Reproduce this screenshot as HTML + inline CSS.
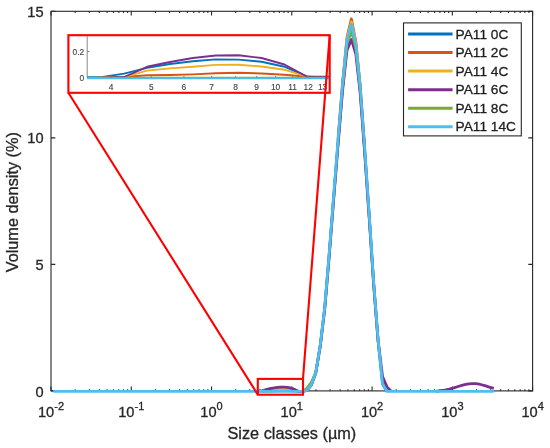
<!DOCTYPE html>
<html><head><meta charset="utf-8"><title>Volume density plot</title>
<style>
html,body{margin:0;padding:0;background:#fff;}
body{width:550px;height:448px;overflow:hidden;}
svg{display:block;}
text{font-family:"Liberation Sans",Arial,Helvetica,sans-serif;fill:#262626;stroke:#262626;stroke-width:0.3px;}
</style></head><body>
<svg width="550" height="448" viewBox="0 0 550 448">
<rect x="0" y="0" width="550" height="448" fill="#fff"/>

<defs><clipPath id="cm"><rect x="51.00" y="-18.70" width="481.60" height="439.60"/></clipPath>
<clipPath id="ci"><rect x="87.20" y="31.30" width="242.50" height="51.20"/></clipPath></defs>
<g stroke="#262626" stroke-width="1.1" fill="none">
<rect x="51.00" y="11.30" width="481.60" height="379.60"/>
<path d="M51.00 390.90v-4.3M51.00 11.30v4.3M75.16 390.90v-1.6M75.16 11.30v1.6M89.30 390.90v-1.6M89.30 11.30v1.6M99.33 390.90v-1.6M99.33 11.30v1.6M107.10 390.90v-1.6M107.10 11.30v1.6M113.46 390.90v-1.6M113.46 11.30v1.6M118.83 390.90v-1.6M118.83 11.30v1.6M123.49 390.90v-1.6M123.49 11.30v1.6M127.59 390.90v-1.6M127.59 11.30v1.6M131.27 390.90v-4.3M131.27 11.30v4.3M155.43 390.90v-1.6M155.43 11.30v1.6M169.56 390.90v-1.6M169.56 11.30v1.6M179.59 390.90v-1.6M179.59 11.30v1.6M187.37 390.90v-1.6M187.37 11.30v1.6M193.73 390.90v-1.6M193.73 11.30v1.6M199.10 390.90v-1.6M199.10 11.30v1.6M203.75 390.90v-1.6M203.75 11.30v1.6M207.86 390.90v-1.6M207.86 11.30v1.6M211.53 390.90v-4.3M211.53 11.30v4.3M235.70 390.90v-1.6M235.70 11.30v1.6M249.83 390.90v-1.6M249.83 11.30v1.6M259.86 390.90v-1.6M259.86 11.30v1.6M267.64 390.90v-1.6M267.64 11.30v1.6M273.99 390.90v-1.6M273.99 11.30v1.6M279.37 390.90v-1.6M279.37 11.30v1.6M284.02 390.90v-1.6M284.02 11.30v1.6M288.13 390.90v-1.6M288.13 11.30v1.6M291.80 390.90v-4.3M291.80 11.30v4.3M315.96 390.90v-1.6M315.96 11.30v1.6M330.10 390.90v-1.6M330.10 11.30v1.6M340.13 390.90v-1.6M340.13 11.30v1.6M347.90 390.90v-1.6M347.90 11.30v1.6M354.26 390.90v-1.6M354.26 11.30v1.6M359.63 390.90v-1.6M359.63 11.30v1.6M364.29 390.90v-1.6M364.29 11.30v1.6M368.39 390.90v-1.6M368.39 11.30v1.6M372.07 390.90v-4.3M372.07 11.30v4.3M396.23 390.90v-1.6M396.23 11.30v1.6M410.36 390.90v-1.6M410.36 11.30v1.6M420.39 390.90v-1.6M420.39 11.30v1.6M428.17 390.90v-1.6M428.17 11.30v1.6M434.53 390.90v-1.6M434.53 11.30v1.6M439.90 390.90v-1.6M439.90 11.30v1.6M444.55 390.90v-1.6M444.55 11.30v1.6M448.66 390.90v-1.6M448.66 11.30v1.6M452.33 390.90v-4.3M452.33 11.30v4.3M476.50 390.90v-1.6M476.50 11.30v1.6M490.63 390.90v-1.6M490.63 11.30v1.6M500.66 390.90v-1.6M500.66 11.30v1.6M508.44 390.90v-1.6M508.44 11.30v1.6M514.79 390.90v-1.6M514.79 11.30v1.6M520.17 390.90v-1.6M520.17 11.30v1.6M524.82 390.90v-1.6M524.82 11.30v1.6M528.93 390.90v-1.6M528.93 11.30v1.6M532.60 390.90v-4.3M532.60 11.30v4.3M51.00 390.90h4.3M532.60 390.90h-4.3M51.00 264.37h4.3M532.60 264.37h-4.3M51.00 137.83h4.3M532.60 137.83h-4.3M51.00 11.30h4.3M532.60 11.30h-4.3"/>
</g>
<g fill="none" stroke-width="2.80" stroke-linejoin="round" stroke-linecap="butt">
<polyline stroke="#0072BD" points="257.93,391.45 262.38,390.72 266.83,389.60 271.28,388.84 275.73,388.31 280.18,387.93 284.63,387.98 289.08,388.41 293.53,389.30 297.98,391.30 302.43,391.45 306.88,390.45 311.33,384.94 315.78,372.66 320.23,345.85 324.68,308.52 329.13,255.41 333.58,198.29 338.03,142.42 342.48,88.30 346.93,44.46 351.38,28.17 355.83,48.22 360.28,90.81 364.73,150.94 369.18,215.57 373.63,282.97 378.08,340.34 382.53,383.93 386.98,391.45"/>
<polyline stroke="#D95319" points="262.38,391.45 266.83,391.05 271.28,390.99 275.73,390.84 280.18,390.61 284.63,390.49 289.08,390.64 293.53,390.89 297.98,391.30 302.43,391.45"/>
<polyline stroke="#D95319" points="338.03,139.90 342.48,84.23 346.93,37.92 351.38,18.94 355.83,41.71 360.28,86.76 364.73,148.51"/>
<polyline stroke="#EDB120" points="262.38,391.45 266.83,390.13 271.28,389.65 275.73,389.32 280.18,389.00 284.63,388.97 289.08,389.30 293.53,389.91 297.98,391.30 302.43,391.45"/>
<polyline stroke="#EDB120" points="342.48,85.24 346.93,39.69 351.38,21.97 355.83,43.48 360.28,87.77"/>
<polyline stroke="#7E2F8E" points="262.38,391.45 266.83,389.40 271.28,388.41 275.73,387.63 280.18,387.12 284.63,387.10 289.08,387.63 293.53,388.89 297.98,391.30 302.43,391.30 306.88,390.46 311.33,385.00 315.78,372.85 320.23,346.31 324.68,309.36 329.13,256.78 333.58,200.24 338.03,144.93 342.48,91.36 346.93,50.49 351.38,39.43 355.83,54.21 360.28,93.84 364.73,153.36 369.18,217.35 373.63,284.06 378.08,340.86 382.53,376.52 386.98,386.89 391.43,391.45"/>
<polyline stroke="#7E2F8E" points="435.93,391.45 440.38,390.66 444.83,390.03 449.28,389.11 453.73,387.90 458.18,386.52 462.63,385.17 467.08,384.11 471.53,383.58 475.98,383.72 480.43,384.48 484.88,385.69 489.33,387.08 493.78,388.41"/>
<polyline stroke="#77AC30" points="302.43,391.45 306.88,388.41 311.33,382.34 315.78,372.47"/>
<polyline stroke="#77AC30" points="342.48,85.24 346.93,43.48 351.38,31.08 355.83,47.28 360.28,87.77"/>
<polyline stroke="#4DBEEE" points="53.23,391.45 57.68,391.45 62.13,391.45 66.58,391.45 71.03,391.45 75.48,391.45 79.93,391.45 84.38,391.45 88.83,391.45 93.28,391.45 97.73,391.45 102.18,391.45 106.63,391.45 111.08,391.45 115.53,391.45 119.98,391.45 124.43,391.45 128.88,391.45 133.33,391.45 137.78,391.45 142.23,391.45 146.68,391.45 151.13,391.45 155.58,391.45 160.03,391.45 164.48,391.45 168.93,391.45 173.38,391.45 177.83,391.45 182.28,391.45 186.73,391.45 191.18,391.45 195.63,391.45 200.08,391.45 204.53,391.45 208.98,391.45 213.43,391.45 217.88,391.45 222.33,391.45 226.78,391.45 231.23,391.45 235.68,391.45 240.13,391.45 244.58,391.45 249.03,391.45 253.48,391.45 257.93,391.45 262.38,391.45 266.83,391.45 271.28,391.45 275.73,391.45 280.18,391.45 284.63,391.45 289.08,391.45 293.53,391.45 297.98,391.45 302.43,391.45 306.88,390.44 311.33,384.87 315.78,372.47 320.23,345.39 324.68,307.68 329.13,254.03 333.58,196.34 338.03,139.90 342.48,85.24 346.93,40.95 351.38,24.50 355.83,44.75 360.28,87.77 364.73,148.51 369.18,213.80 373.63,281.87 378.08,339.82 382.53,383.86 386.98,391.45 391.43,391.45 395.88,391.45 400.33,391.45 404.78,391.45 409.23,391.45 413.68,391.45 418.13,391.45 422.58,391.45 427.03,391.45 431.48,391.45 435.93,391.45 440.38,391.45 444.83,391.45 449.28,391.45 453.73,391.45 458.18,391.45 462.63,391.45 467.08,391.45 471.53,391.45 475.98,391.45 480.43,391.45 484.88,391.45 489.33,391.45 493.78,391.45"/>
</g>
<text x="43.6" y="397.10" font-size="14.6" text-anchor="end">0</text>
<text x="43.6" y="270.27" font-size="14.6" text-anchor="end">5</text>
<text x="43.6" y="143.43" font-size="14.6" text-anchor="end">10</text>
<text x="43.6" y="16.60" font-size="14.6" text-anchor="end">15</text>
<text x="51.00" y="417.4" font-size="14.6" text-anchor="middle">10<tspan font-size="11.0" dy="-7.0">-2</tspan></text>
<text x="131.27" y="417.4" font-size="14.6" text-anchor="middle">10<tspan font-size="11.0" dy="-7.0">-1</tspan></text>
<text x="211.53" y="417.4" font-size="14.6" text-anchor="middle">10<tspan font-size="11.0" dy="-7.0">0</tspan></text>
<text x="291.80" y="417.4" font-size="14.6" text-anchor="middle">10<tspan font-size="11.0" dy="-7.0">1</tspan></text>
<text x="372.07" y="417.4" font-size="14.6" text-anchor="middle">10<tspan font-size="11.0" dy="-7.0">2</tspan></text>
<text x="452.33" y="417.4" font-size="14.6" text-anchor="middle">10<tspan font-size="11.0" dy="-7.0">3</tspan></text>
<text x="532.60" y="417.4" font-size="14.6" text-anchor="middle">10<tspan font-size="11.0" dy="-7.0">4</tspan></text>
<text x="291.9" y="439.4" font-size="16.3" text-anchor="middle">Size classes (&#181;m)</text>
<text transform="translate(18.2 202.2) rotate(-90)" x="0" y="0" font-size="16.3" text-anchor="middle">Volume density (%)</text>
<rect x="68.40" y="35.20" width="261.30" height="57.60" fill="#fff" stroke="none"/>
<g clip-path="url(#ci)" fill="none" stroke-width="1.9" stroke-linejoin="round">
<polyline stroke="#0072BD" points="78.36,77.10 101.26,77.10 124.16,73.60 147.05,67.90 169.95,64.00 192.85,61.30 215.74,59.40 238.64,59.60 261.54,61.80 284.44,66.70 307.33,76.80 330.23,77.40 353.13,77.40"/>
<polyline stroke="#D95319" points="101.26,77.40 124.16,77.00 147.05,75.30 169.95,75.00 192.85,74.40 215.74,73.30 238.64,72.70 261.54,73.50 284.44,74.70 307.33,76.80 330.23,77.40 353.13,77.40"/>
<polyline stroke="#EDB120" points="101.26,77.40 124.16,77.00 147.05,70.60 169.95,68.40 192.85,66.70 215.74,64.90 238.64,64.80 261.54,66.50 284.44,69.70 307.33,76.80 330.23,77.40 353.13,77.40"/>
<polyline stroke="#7E2F8E" points="101.26,77.40 124.16,77.00 147.05,66.80 169.95,62.00 192.85,58.00 215.74,55.50 238.64,55.30 261.54,58.00 284.44,64.50 307.33,76.80 330.23,76.80 353.13,76.80"/>
<polyline stroke="#77AC30" points="78.36,77.80 101.26,77.80 124.16,77.80 147.05,77.80 169.95,77.80 192.85,77.80 215.74,77.80 238.64,77.80 261.54,77.80 284.44,77.80 307.33,77.80 330.23,77.80 353.13,77.80"/>
<polyline stroke="#4DBEEE" points="78.36,78.20 101.26,78.20 124.16,78.20 147.05,78.20 169.95,78.20 192.85,78.20 215.74,78.20 238.64,78.20 261.54,78.20 284.44,78.20 307.33,78.20 330.23,78.20 353.13,78.20"/>
</g>
<path d="M87.20 36.30V77.50 M87.20 51.5h2.5" stroke="#7a7a7a" stroke-width="0.9" fill="none"/>
<path d="M111.20 77.50v-1.6M151.22 77.50v-1.6M183.93 77.50v-1.6M211.57 77.50v-1.6M235.53 77.50v-1.6M256.65 77.50v-1.6M275.55 77.50v-1.6M292.64 77.50v-1.6M308.25 77.50v-1.6M322.61 77.50v-1.6" stroke="#7a7a7a" stroke-width="0.8" fill="none"/>
<text x="84.2" y="54.6" font-size="8.4" text-anchor="end" style="fill:#404040;stroke:#404040;stroke-width:0.12px">0.2</text>
<text x="84.2" y="81.2" font-size="8.4" text-anchor="end" style="fill:#404040;stroke:#404040;stroke-width:0.12px">0</text>
<text x="111.20" y="89.5" font-size="8.4" text-anchor="middle" style="fill:#404040;stroke:#404040;stroke-width:0.12px">4</text>
<text x="151.22" y="89.5" font-size="8.4" text-anchor="middle" style="fill:#404040;stroke:#404040;stroke-width:0.12px">5</text>
<text x="183.93" y="89.5" font-size="8.4" text-anchor="middle" style="fill:#404040;stroke:#404040;stroke-width:0.12px">6</text>
<text x="211.57" y="89.5" font-size="8.4" text-anchor="middle" style="fill:#404040;stroke:#404040;stroke-width:0.12px">7</text>
<text x="235.53" y="89.5" font-size="8.4" text-anchor="middle" style="fill:#404040;stroke:#404040;stroke-width:0.12px">8</text>
<text x="256.65" y="89.5" font-size="8.4" text-anchor="middle" style="fill:#404040;stroke:#404040;stroke-width:0.12px">9</text>
<text x="275.55" y="89.5" font-size="8.4" text-anchor="middle" style="fill:#404040;stroke:#404040;stroke-width:0.12px">10</text>
<text x="292.64" y="89.5" font-size="8.4" text-anchor="middle" style="fill:#404040;stroke:#404040;stroke-width:0.12px">11</text>
<text x="308.25" y="89.5" font-size="8.4" text-anchor="middle" style="fill:#404040;stroke:#404040;stroke-width:0.12px">12</text>
<text x="322.61" y="89.5" font-size="8.4" text-anchor="middle" style="fill:#404040;stroke:#404040;stroke-width:0.12px">13</text>
<g stroke="#FF0000" stroke-width="2.1" fill="none">
<rect x="68.4" y="35.2" width="261.3" height="57.6"/>
<rect x="257.8" y="378.9" width="45.2" height="15.8"/>
<path d="M68.4 92.8 L257.8 394.7 M329.7 35.2 L303.0 378.9"/>
</g>
<rect x="403.50" y="22.90" width="117.80" height="113.00" fill="#fff" stroke="#262626" stroke-width="1.1"/>
<line x1="408.1" y1="34.00" x2="452.6" y2="34.00" stroke="#0072BD" stroke-width="3.0"/>
<text x="455.6" y="38.70" font-size="13.7" style="fill:#1a1a1a">PA11 0C</text>
<line x1="408.1" y1="52.55" x2="452.6" y2="52.55" stroke="#D95319" stroke-width="3.0"/>
<text x="455.6" y="57.25" font-size="13.7" style="fill:#1a1a1a">PA11 2C</text>
<line x1="408.1" y1="71.10" x2="452.6" y2="71.10" stroke="#EDB120" stroke-width="3.0"/>
<text x="455.6" y="75.80" font-size="13.7" style="fill:#1a1a1a">PA11 4C</text>
<line x1="408.1" y1="89.65" x2="452.6" y2="89.65" stroke="#7E2F8E" stroke-width="3.0"/>
<text x="455.6" y="94.35" font-size="13.7" style="fill:#1a1a1a">PA11 6C</text>
<line x1="408.1" y1="108.20" x2="452.6" y2="108.20" stroke="#77AC30" stroke-width="3.0"/>
<text x="455.6" y="112.90" font-size="13.7" style="fill:#1a1a1a">PA11 8C</text>
<line x1="408.1" y1="126.75" x2="452.6" y2="126.75" stroke="#4DBEEE" stroke-width="3.0"/>
<text x="455.6" y="131.45" font-size="13.7" style="fill:#1a1a1a">PA11 14C</text>
</svg></body></html>
